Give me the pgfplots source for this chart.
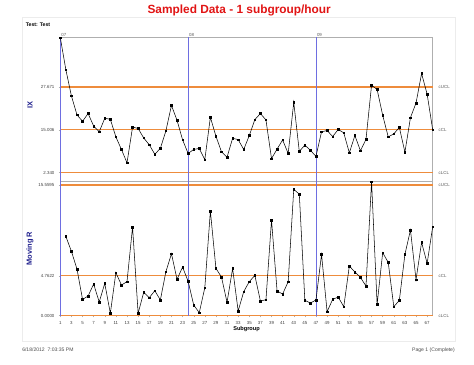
\documentclass[border=0pt]{standalone}
\usepackage{fontspec}
\setmainfont{Liberation Sans}
\usepackage{pgfplots}
\pgfplotsset{compat=1.18}
\definecolor{ctrl}{RGB}{238,140,60}
\definecolor{evt}{RGB}{110,110,225}
\definecolor{lbl}{RGB}{30,30,140}
\definecolor{frm}{RGB}{175,175,175}
\definecolor{ttl}{RGB}{225,20,20}

\tikzset{
  cl/.style={ctrl, line width=1.05pt},
  ev/.style={evt, line width=0.7pt},
  dat/.style={black, line width=0.4pt, mark=square*, mark size=0.6pt, mark options={solid}},
  rl/.style={anchor=west, font=\fontsize{3.3}{4}\selectfont, text=black!65, xshift=1pt}
}
\pgfplotsset{spc/.style={scale only axis, width=279.3pt, xmin=1, xmax=68,
  axis line style={frm, line width=0.5pt}, tick style={frm, line width=0.3pt},
  tick align=outside, major tick length=1.2pt,
  ticklabel style={font=\fontsize{3.3}{4}\selectfont, text=black!75},
  yticklabel style={xshift=0.3pt},
  xticklabel style={yshift=0.6pt},
  /pgf/number format/assume math mode=true, clip=false,
  ylabel style={font=\fontsize{5.6}{6}\selectfont\bfseries, text=lbl,
    at={(axis description cs:-0.0813,0.5)}, anchor=center},
  ytick pos=left, xtick pos=bottom}
}

\begin{document}
\begin{tikzpicture}
\useasboundingbox (0,0) rectangle (355.5pt,273pt);
\draw[gray!15] (16.7pt,17.25pt) rectangle (341.25pt,260pt);
\node[font=\fontsize{8.9}{10}\selectfont\bfseries, text=ttl] at (179.4pt,265.2pt) {Sampled Data - 1 subgroup/hour};
\node[anchor=west, font=\fontsize{3.9}{4.5}\selectfont\bfseries, inner sep=0pt] at (19.2pt,254.2pt) {Test: Test};
\node[anchor=west, font=\fontsize{3.8}{4.5}\selectfont, text=black!70, inner sep=0pt] at (16.5pt,10.5pt) {6/18/2012\ \ 7:03:35 PM};
\node[anchor=east, font=\fontsize{3.8}{4.5}\selectfont, text=black!70, inner sep=0pt] at (341.25pt,10.5pt) {Page 1 (Complete)};

% ---------- top: individual values ----------
\begin{axis}[spc, at={(45.23pt,143.48pt)}, anchor=south west, height=101.55pt,
  ymin=2.34, ymax=42.3,
  ytick={2.340,15.006,27.671}, yticklabels={2.340,15.006,27.671},
  xtick=\empty, ylabel={IX}]
\addplot[cl] coordinates {(1,27.671) (68,27.671)};
\addplot[cl] coordinates {(1,15.006) (68,15.006)};
\addplot[cl] coordinates {(1,2.340) (68,2.340)};
\draw[frm, line width=0.5pt] (axis cs:68,2.34) -- (axis cs:68,-0.33);
\draw[ev] (axis cs:1,42.3) -- (axis cs:1,-0.33);
\draw[ev] (axis cs:24,42.3) -- (axis cs:24,-0.33);
\draw[ev] (axis cs:47,42.3) -- (axis cs:47,-0.33);
\node[anchor=south west, font=\fontsize{3.3}{4}\selectfont, text=black!65, inner sep=0.6pt] at (axis cs:1,42.3) {07};
\node[anchor=south west, font=\fontsize{3.3}{4}\selectfont, text=black!65, inner sep=0.6pt] at (axis cs:24,42.3) {08};
\node[anchor=south west, font=\fontsize{3.3}{4}\selectfont, text=black!65, inner sep=0.6pt] at (axis cs:47,42.3) {09};
\node[rl] at (axis cs:68,27.671) {cUCL};
\node[rl] at (axis cs:68,15.006) {cCL};
\node[rl] at (axis cs:68,2.340) {cLCL};
\addplot[dat] table {
x y
1 42.2
2 32.7
3 25.0
4 19.4
5 17.5
6 19.8
7 16.1
8 14.4
9 18.4
10 18.1
11 12.9
12 9.2
13 5.25
14 15.8
15 15.4
16 12.6
17 10.6
18 7.8
19 9.5
20 14.7
21 22.2
22 17.8
23 12.05
24 8.0
25 9.2
26 9.5
27 6.2
28 18.7
29 13.1
30 8.5
31 6.9
32 12.5
33 12.1
34 9.2
35 13.3
36 18.0
37 19.8
38 17.9
39 6.5
40 9.3
41 12.0
42 8.0
43 23.1
44 8.6
45 10.5
46 8.9
47 7.2
48 14.4
49 14.8
50 13.0
51 15.1
52 14.1
53 8.2
54 13.3
55 8.8
56 12.2
57 28.15
58 26.9
59 19.3
60 12.9
61 13.8
62 15.7
63 8.4
64 18.6
65 22.9
66 31.6
67 25.5
68 15.0
};
\end{axis}

% ---------- bottom: moving range ----------
\begin{axis}[spc, at={(45.23pt,36.23pt)}, anchor=south west, height=100.65pt,
  ymin=0, ymax=15.98,
  ytick={0,4.7622,15.5595}, yticklabels={0.0000,4.7622,15.5595},
  xtick={1,3,...,67},
  xlabel={Subgroup},
  xlabel style={font=\fontsize{4.2}{5}\selectfont\bfseries, at={(axis description cs:0.5,0)}, anchor=center, yshift=-10pt},
  ylabel={Moving R}]
\addplot[cl] coordinates {(1,15.5595) (68,15.5595)};
\addplot[cl] coordinates {(1,4.7622) (68,4.7622)};
\addplot[cl] coordinates {(1,0) (68,0)};
\draw[ev] (axis cs:1,15.98) -- (axis cs:1,0);
\draw[ev] (axis cs:24,15.98) -- (axis cs:24,0);
\draw[ev] (axis cs:47,15.98) -- (axis cs:47,0);
\node[rl] at (axis cs:68,15.5595) {cUCL};
\node[rl] at (axis cs:68,4.7622) {cCL};
\node[rl] at (axis cs:68,0) {cLCL};
\addplot[dat] table {
x y
2 9.44
3 7.66
4 5.56
5 1.94
6 2.34
7 3.77
8 1.63
9 3.85
10 0.28
11 5.12
12 3.65
13 4.05
14 10.56
15 0.28
16 2.78
17 2.14
18 2.98
19 1.87
20 5.24
21 7.38
22 4.33
23 5.79
24 4.09
25 1.27
26 0.36
27 3.33
28 12.46
29 5.63
30 4.6
31 1.59
32 5.63
33 0.56
34 2.86
35 4.05
36 4.8
37 1.75
38 1.9
39 11.39
40 2.94
41 2.58
42 4.05
43 15.04
44 14.48
45 1.83
46 1.51
47 1.87
48 7.3
49 0.48
50 1.94
51 2.22
52 1.07
53 5.91
54 5.2
55 4.56
56 3.53
57 15.95
58 1.35
59 7.5
60 6.35
61 1.07
62 1.83
63 7.3
64 10.2
65 4.29
66 8.73
67 6.23
68 10.6
};
\end{axis}
\end{tikzpicture}
\end{document}
